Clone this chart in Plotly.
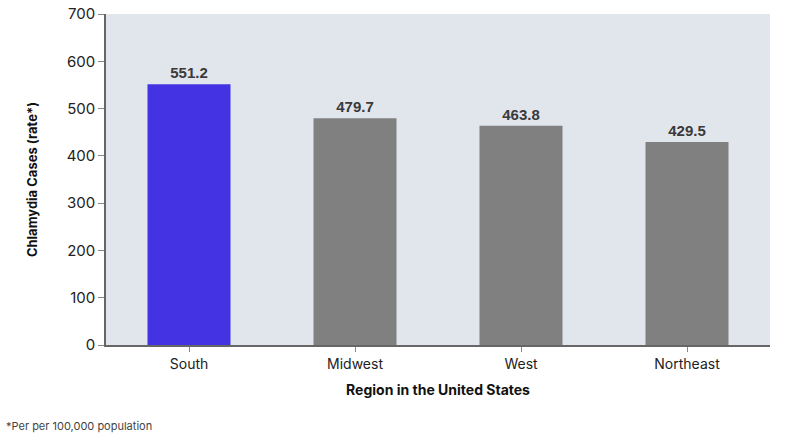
import plotly.graph_objects as go

regions = ["South", "Midwest", "West", "Northeast"]
rates = [551.2, 479.7, 463.8, 429.5]
colors = ["#4433e2", "#808080", "#808080", "#808080"]

fig = go.Figure(go.Bar(
    x=regions, y=rates,
    marker=dict(color=colors, line=dict(width=0)),
    text=[f"<b>{v:.1f}</b>" for v in rates],
    textposition="outside",
    textfont=dict(family="Liberation Sans", size=15, color="#3a3a3a"),
    cliponaxis=False,
))

fig.update_layout(
    width=800, height=446,
    margin=dict(l=106, r=30, t=14, b=101, autoexpand=False),
    paper_bgcolor="white",
    plot_bgcolor="#e1e5ec",
    bargap=0.5,
    showlegend=False,
    font=dict(family="Inter", color="#222"),
    xaxis=dict(
        title=dict(text="<b>Region in the United States</b>", font=dict(size=14, color="#111"), standoff=15),
        showline=True, linecolor="#666", linewidth=1.5,
        ticks="outside", ticklen=5, tickcolor="#888",
        tickfont=dict(size=14, color="#222"),
        showgrid=False, automargin=False,
    ),
    yaxis=dict(
        title=dict(text="<b>Chlamydia Cases (rate*)</b>", font=dict(size=13, color="#111"), standoff=26),
        range=[0, 700], dtick=100,
        showline=True, linecolor="#666", linewidth=1.5,
        ticks="outside", ticklen=6, tickcolor="#888",
        tickfont=dict(size=15, color="#222"),
        showgrid=False, zeroline=False, automargin=False,
    ),
    annotations=[dict(
        text="*Per per 100,000 population", x=0, y=0, xref="paper", yref="paper",
        xanchor="left", yanchor="top", xshift=-102, yshift=-72, showarrow=False,
        font=dict(size=11, color="#444"),
    )],
)

fig.write_html("out.html")
